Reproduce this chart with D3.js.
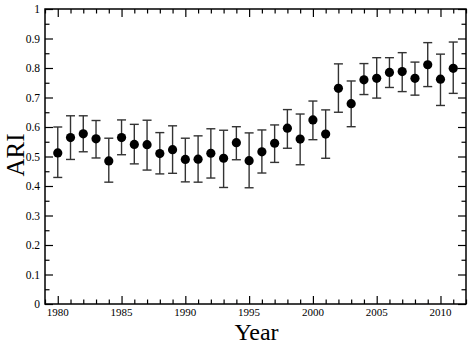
<!DOCTYPE html>
<html><head><meta charset="utf-8">
<script src="https://cdn.jsdelivr.net/npm/d3@7"></script>
<style>html,body{margin:0;padding:0;background:#fff;}</style>
</head><body>
<svg id="chart" width="474" height="346"></svg>
<script>
const years = [1980,1981,1982,1983,1984,1985,1986,1987,1988,1989,1990,1991,1992,1993,1994,1995,1996,1997,1998,1999,2000,2001,2002,2003,2004,2005,2006,2007,2008,2009,2010,2011];
const ari   = [0.512,0.564,0.577,0.560,0.485,0.564,0.541,0.540,0.510,0.523,0.490,0.491,0.511,0.494,0.547,0.486,0.516,0.545,0.596,0.559,0.624,0.576,0.731,0.679,0.760,0.765,0.785,0.788,0.765,0.811,0.762,0.799];
const upper = [0.600,0.638,0.638,0.622,0.562,0.624,0.609,0.623,0.581,0.604,0.562,0.570,0.594,0.589,0.601,0.580,0.590,0.607,0.659,0.644,0.688,0.658,0.814,0.756,0.815,0.835,0.835,0.852,0.820,0.886,0.847,0.888];
const lower = [0.429,0.490,0.516,0.495,0.413,0.506,0.475,0.454,0.441,0.443,0.414,0.413,0.427,0.395,0.489,0.394,0.444,0.480,0.528,0.472,0.557,0.494,0.650,0.601,0.710,0.698,0.734,0.720,0.708,0.737,0.673,0.714];
const xTickLabels = [1980,1985,1990,1995,2000,2005,2010];
const yTickLabels = ["0","0.1","0.2","0.3","0.4","0.5","0.6","0.7","0.8","0.9","1"];

const L = 45, R = 466, T = 9, B = 304;
const svg = d3.select("#chart");
const x = d3.scaleLinear().domain([1979, 2012]).range([L, R]);
const y = d3.scaleLinear().domain([0, 1]).range([B, T]);
const font = "'Liberation Serif','Times New Roman',serif";

const minorX = d3.range(1979, 2013);
const minorY = d3.range(0, 21).map(i => i * 0.05);
const isMajorX = v => v % 5 === 0;
const isMajorY = v => Math.abs(v * 10 - Math.round(v * 10)) < 1e-6;

// bottom ticks (inward = up)
let g = svg.append("g").attr("transform", `translate(0,${B})`)
  .call(d3.axisBottom(x).tickValues(minorX).tickFormat("").tickSizeOuter(0));
g.select(".domain").remove();
g.selectAll(".tick line").attr("y2", d => isMajorX(d) ? -8 : -4.5).attr("stroke-width", 1.2);
// top ticks (inward = down)
g = svg.append("g").attr("transform", `translate(0,${T})`)
  .call(d3.axisTop(x).tickValues(minorX).tickFormat("").tickSizeOuter(0));
g.select(".domain").remove();
g.selectAll(".tick line").attr("y2", d => isMajorX(d) ? 8 : 4.5).attr("stroke-width", 1.2);
// left ticks (inward = right)
g = svg.append("g").attr("transform", `translate(${L},0)`)
  .call(d3.axisLeft(y).tickValues(minorY).tickFormat("").tickSizeOuter(0));
g.select(".domain").remove();
g.selectAll(".tick line").attr("x2", d => isMajorY(d) ? 8 : 4.5).attr("stroke-width", 1.2);
// right ticks (inward = left)
g = svg.append("g").attr("transform", `translate(${R},0)`)
  .call(d3.axisRight(y).tickValues(minorY).tickFormat("").tickSizeOuter(0));
g.select(".domain").remove();
g.selectAll(".tick line").attr("x2", d => isMajorY(d) ? -8 : -4.5).attr("stroke-width", 1.2);

// tick labels
svg.append("g").selectAll("text").data(xTickLabels).join("text")
  .attr("x", d => x(d)).attr("y", 316)
  .attr("text-anchor", "middle")
  .attr("font-family", font).attr("font-size", 11)
  .text(d => d);
svg.append("g").selectAll("text").data(yTickLabels).join("text")
  .attr("x", 40).attr("y", d => y(+d))
  .attr("text-anchor", "end").attr("dominant-baseline", "central")
  .attr("font-family", font).attr("font-size", 11.5)
  .text(d => d);

// frame
svg.append("rect").attr("x", L).attr("y", T).attr("width", R - L).attr("height", B - T)
  .attr("fill", "none").attr("stroke", "#000").attr("stroke-width", 1.5);

// axis titles
svg.append("text").attr("x", (L + R) / 2 + 1).attr("y", 340)
  .attr("text-anchor", "middle").attr("font-family", font).attr("font-size", 24)
  .text("Year");
svg.append("text").attr("transform", `translate(24,155) rotate(-90)`)
  .attr("text-anchor", "middle").attr("font-family", font).attr("font-size", 25)
  .text("ARI");

// error bars
const data = years.map((yr, i) => ({yr, v: ari[i], hi: upper[i], lo: lower[i]}));
const eb = svg.append("g").attr("stroke", "#333").attr("stroke-width", 1.4);
eb.selectAll("line.v").data(data).join("line").attr("class", "v")
  .attr("x1", d => x(d.yr)).attr("x2", d => x(d.yr))
  .attr("y1", d => y(d.hi)).attr("y2", d => y(d.lo));
eb.selectAll("line.t").data(data).join("line").attr("class", "t")
  .attr("x1", d => x(d.yr) - 4.5).attr("x2", d => x(d.yr) + 4.5)
  .attr("y1", d => y(d.hi)).attr("y2", d => y(d.hi));
eb.selectAll("line.b").data(data).join("line").attr("class", "b")
  .attr("x1", d => x(d.yr) - 4.5).attr("x2", d => x(d.yr) + 4.5)
  .attr("y1", d => y(d.lo)).attr("y2", d => y(d.lo));

// points
svg.append("g").selectAll("circle").data(data).join("circle")
  .attr("cx", d => x(d.yr)).attr("cy", d => y(d.v)).attr("r", 4.6)
  .attr("fill", "#000");
</script>
</body></html>
